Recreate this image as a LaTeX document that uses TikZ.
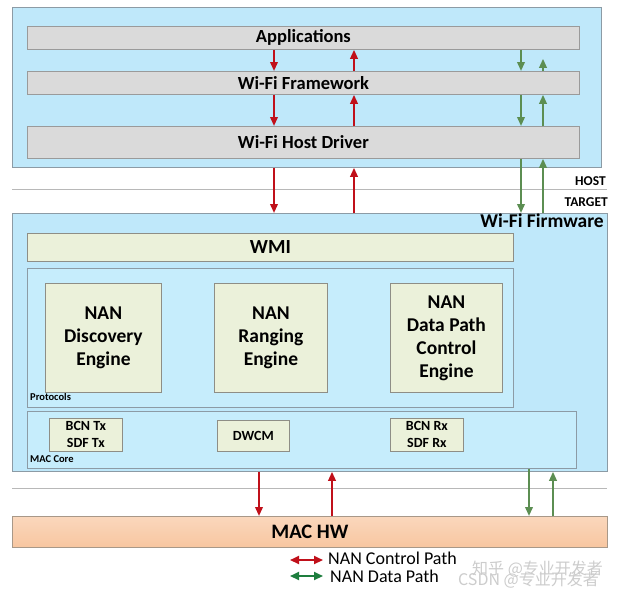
\documentclass[tikz,border=0pt]{standalone}
\usepackage{fontspec}
\setmainfont{Carlito}
\newfontfamily\cjkfont{Noto Sans CJK SC}
\usetikzlibrary{arrows.meta}
\definecolor{hostblue}{HTML}{BFE8FA}
\definecolor{protoblue}{HTML}{C6EDFC}
\definecolor{bordergray}{HTML}{8C9BA5}
\definecolor{bargray}{HTML}{DADADA}
\definecolor{barborder}{HTML}{9A9A9A}
\definecolor{olive}{HTML}{EBF1DA}
\definecolor{oliveborder}{HTML}{8E8E86}
\definecolor{orangehw}{HTML}{F8C6A0}
\definecolor{orangeborder}{HTML}{A89888}
\definecolor{redarrow}{HTML}{C0101A}
\definecolor{greenarrow}{HTML}{5C8E52}
\definecolor{greenlegend}{HTML}{1E7E3E}
\definecolor{sepline}{HTML}{B8B8B8}
\begin{document}
\begin{tikzpicture}[x=1pt,y=-1pt,
  region/.style={draw=bordergray,fill=hostblue,line width=0.8pt,anchor=north west,inner sep=0pt},
  bar/.style={draw=barborder,fill=bargray,line width=0.8pt,anchor=north west,inner sep=0pt,font=\bfseries\fontsize{18.5}{20}\selectfont},
  olivebox/.style={draw=oliveborder,fill=olive,line width=0.8pt,anchor=north west,inner sep=0pt,align=center},
  subregion/.style={draw=bordergray,fill=protoblue,line width=0.8pt,anchor=north west,inner sep=0pt},
  tinylabel/.style={font=\bfseries\fontsize{10.5}{11}\selectfont,anchor=west,inner sep=0pt},
  engine/.style={olivebox,minimum height=109pt,font=\bfseries\fontsize{19.5}{23}\selectfont},
  smallbox/.style={olivebox,font=\bfseries\fontsize{14}{17}\selectfont},
  redarr/.style={draw=redarrow,line width=2pt,-{Triangle[length=9pt,width=7.5pt]}},
  greenarr/.style={draw=greenarrow,line width=2pt,-{Triangle[length=9pt,width=7.5pt]}},
  legendarr/.style={line width=2pt,{Triangle[length=9pt,width=8pt]}-{Triangle[length=9pt,width=8pt]}},
  legendtext/.style={anchor=west,inner sep=0pt,font=\fontsize{18}{18}\selectfont},
  sep/.style={draw=sepline,line width=1pt}]
\useasboundingbox (0,0) rectangle (642,600);
\fill[white] (0,0) rectangle (642,600);

% Host region
\node[region,minimum width=589pt,minimum height=160pt] (host) at (12,7) {};
\node[bar,minimum width=552pt,minimum height=23pt] (app) at (27,26) {Applications};
\node[bar,minimum width=552pt,minimum height=23pt] (fw) at (27,71) {Wi-Fi Framework};
\node[bar,minimum width=552pt,minimum height=32pt] (drv) at (27,126) {Wi-Fi Host Driver};

% separator lines
\coordinate (sl1) at (12,189);
\coordinate (sr1) at (607,189);
\draw[sep] (sl1) -- (sr1);
\node[font=\bfseries\fontsize{13.5}{15}\selectfont,anchor=east,inner sep=0pt] (hostlbl) at (606,181) {HOST};
\node[font=\bfseries\fontsize{13.5}{15}\selectfont,anchor=east,inner sep=0pt] (targetlbl) at (608,202) {TARGET};

% Firmware region
\node[region,minimum width=595pt,minimum height=258pt] (fwr) at (12,213) {};
\node[font=\bfseries\fontsize{19.5}{21}\selectfont,anchor=east,inner sep=0pt] (fwlbl) at (604,221) {Wi-Fi Firmware};

\node[olivebox,minimum width=486pt,minimum height=28pt,font=\bfseries\fontsize{20}{22}\selectfont] (wmi) at (27,233) {WMI};

\node[subregion,minimum width=486pt,minimum height=139pt] (proto) at (27,268) {};
\node[tinylabel] (protolbl) at (30,397) {Protocols};
\node[engine,minimum width=116pt] (disc) at (45,283) {NAN\\Discovery\\Engine};
\node[engine,minimum width=113pt] (rang) at (214,283) {NAN\\Ranging\\Engine};
\node[engine,minimum width=112pt] (dpc) at (390,283) {NAN\\Data Path\\Control\\Engine};

\node[subregion,minimum width=549pt,minimum height=57pt] (mac) at (27,411) {};
\node[tinylabel] (maclbl) at (30,459) {MAC Core};
\node[smallbox,minimum width=73pt,minimum height=33pt] (bcntx) at (49,418) {BCN Tx\\SDF Tx};
\node[smallbox,minimum width=72pt,minimum height=31pt] (dwcm) at (217,420) {DWCM};
\node[smallbox,minimum width=73pt,minimum height=33pt] (bcnrx) at (390,418) {BCN Rx\\SDF Rx};

% separator under firmware
\coordinate (sl2) at (12,488);
\coordinate (sr2) at (607,488);
\draw[sep] (sl2) -- (sr2);

% MAC HW
\node[draw=orangeborder,line width=0.8pt,top color=orangehw!70!white,bottom color=orangehw,anchor=north west,inner sep=0pt,minimum width=595pt,minimum height=31pt,font=\bfseries\fontsize{20.5}{22}\selectfont] (hw) at (12,516) {MAC HW};

% arrow columns
\coordinate (rd) at (274,0);
\coordinate (ru) at (354,0);
\coordinate (gd) at (521,0);
\coordinate (gu) at (543,0);
\coordinate (rd2) at (259,0);
\coordinate (ru2) at (332,0);
\coordinate (gd2) at (529,0);
\coordinate (gu2) at (553,0);

% red control path
\draw[redarr] (app.south -| rd) -- (fw.north -| rd);
\draw[redarr] (fw.north -| ru) -- (app.south -| ru);
\draw[redarr] (fw.south -| rd) -- (drv.north -| rd);
\draw[redarr] (drv.north -| ru) -- (fw.south -| ru);
\draw[redarr] (host.south -| rd) -- (fwr.north -| rd);
\draw[redarr] (fwr.north -| ru) -- (host.south -| ru);
\draw[redarr] (fwr.south -| rd2) -- (hw.north -| rd2);
\draw[redarr] (hw.north -| ru2) -- (fwr.south -| ru2);

% green data path
\draw[greenarr] (app.south -| gd) -- (fw.north -| gd);
\draw[greenarr] (fw.north -| gu) -- ([yshift=-9pt]app.south -| gu);
\draw[greenarr] (fw.south -| gd) -- (drv.north -| gd);
\draw[greenarr] (drv.north -| gu) -- (fw.south -| gu);
\draw[greenarr] (drv.south -| gd) -- (fwr.north -| gd);
\draw[greenarr] (fwr.north -| gu) -- (drv.south -| gu);
\draw[greenarr] (mac.south -| gd2) -- (hw.north -| gd2);
\draw[greenarr] (hw.north -| gu2) -- (fwr.south -| gu2);

% legend
\coordinate (lr1) at (290,560);
\coordinate (lr2) at (323,560);
\coordinate (lg1) at (290,576);
\coordinate (lg2) at (323,576);
\draw[legendarr,draw=redarrow] (lr1) -- (lr2);
\draw[legendarr,draw=greenlegend] (lg1) -- (lg2);
\node[legendtext] (lctl) at (328,558) {NAN Control Path};
\node[legendtext] (ldat) at (330,576) {NAN Data Path};

% watermark
\node[anchor=west,inner sep=0pt,text=gray!40,font=\cjkfont\fontsize{16}{17}\selectfont] (wm1) at (472,569) {知乎 @专业开发者};
\node[anchor=west,inner sep=0pt,text=gray!40,font=\cjkfont\fontsize{16}{17}\selectfont] (wm2) at (458,580) {CSDN @专业开发者};
\end{tikzpicture}
\end{document}
